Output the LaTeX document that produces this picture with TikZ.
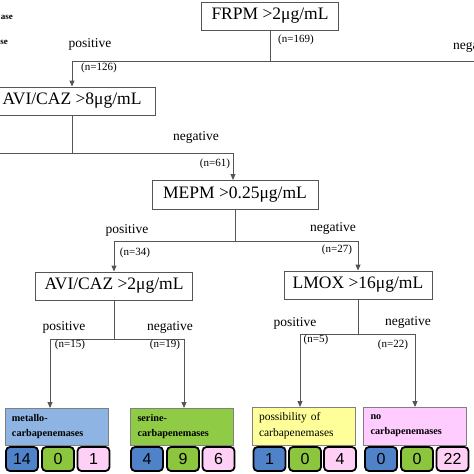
\documentclass[tikz,border=0pt]{standalone}
\usepackage{fontspec}
\setmainfont{Liberation Serif}
\newfontfamily\numfont{Liberation Sans}
\usetikzlibrary{arrows.meta}
\definecolor{linegray}{HTML}{555555}
\definecolor{leafblue}{HTML}{8DB4E2}
\definecolor{leafgreen}{HTML}{8FCB45}
\definecolor{leafyellow}{HTML}{FFFF99}
\definecolor{leafpink}{HTML}{FFCCFF}
\definecolor{numblue}{HTML}{4F82C8}
\definecolor{numgreen}{HTML}{8CC63E}
\definecolor{numpink}{HTML}{FFD0F5}
\begin{document}
\begin{tikzpicture}[x=1pt,y=-1pt,
  line/.style={draw=linegray, line width=0.9pt},
  arr/.style={line, -{Triangle[length=6pt,width=5pt]}},
  testbox/.style={draw=linegray, line width=0.9pt, fill=white, minimum height=28pt, inner sep=0pt, font=\fontsize{17.5}{20}\selectfont},
  lbl/.style={font=\fontsize{13.5}{15}\selectfont, inner sep=0pt},
  cnt/.style={font=\fontsize{11}{13}\selectfont, inner sep=0pt},
  leaf/.style={draw=gray, line width=0.7pt, minimum height=37pt, text width=89pt, inner xsep=7pt, inner ysep=0pt, align=left, font=\fontsize{11.5}{15}\selectfont},
  boldleaf/.style={leaf, font=\bfseries\fontsize{10.2}{15}\selectfont},
  num/.style={draw=black, line width=1.8pt, rounded corners=4pt, minimum width=32pt, minimum height=24pt, inner sep=0pt, font=\numfont\fontsize{16}{18}\selectfont},
  frag/.style={font=\bfseries\fontsize{9}{10}\selectfont, inner sep=0pt}
]
\clip (0,0) rectangle (474,474);
\fill[white] (0,0) rectangle (474,474);

% fragments of a cut-off legend
\node[frag, anchor=east] (fa) at (13,17) {ase};
\node[frag, anchor=east] (fb) at (8,42) {se};

% test boxes
\node[testbox, minimum width=137pt] (frpm) at (270,16) {FRPM >2μg/mL};
\node[testbox, minimum width=166pt] (avi8) at (72,101) {AVI/CAZ >8μg/mL};
\node[testbox, minimum width=166pt, minimum height=29pt] (mepm) at (235,194.5) {MEPM >0.25μg/mL};
\node[testbox, minimum width=157pt] (avi2) at (114,286) {AVI/CAZ >2μg/mL};
\node[testbox, minimum width=148pt] (lmox) at (358,285) {LMOX >16μg/mL};

% leaves
\node[boldleaf, fill=leafblue] (metallo) at (56.5,426.5) {metallo-\\carbapenemases};
\node[boldleaf, fill=leafgreen] (serine) at (182,426.5) {serine-\\carbapenemases};
\node[leaf, fill=leafyellow, minimum height=38pt, font=\fontsize{11.5}{16}\selectfont] (poss) at (303.5,426) {possibility of\\carbapenemases};
\node[boldleaf, fill=leafpink, minimum height=38pt] (nocarb) at (415,426) {no\\carbapenemases};

% count boxes
\node[num, fill=numblue]  (m1) at (22,459) {14};
\node[num, fill=numgreen] (m2) at (58,459) {0};
\node[num, fill=numpink]  (m3) at (93.5,459) {1};
\node[num, fill=numblue]  (s1) at (147,459) {4};
\node[num, fill=numgreen] (s2) at (183,459) {9};
\node[num, fill=numpink]  (s3) at (218.5,459) {6};
\node[num, fill=numblue]  (p1) at (269.5,459) {1};
\node[num, fill=numgreen] (p2) at (305,459) {0};
\node[num, fill=numpink]  (p3) at (340,459) {4};
\node[num, fill=numblue]  (n1) at (381,459) {0};
\node[num, fill=numgreen] (n2) at (417,459) {0};
\node[num, fill=numpink]  (n3) at (452.5,459) {22};

% junction coordinates
\coordinate (j1) at (270,61);
\coordinate (j1r) at (490,61);
\coordinate (j2) at (72,153);
\coordinate (j2l) at (-20,153);
\coordinate (j3) at (235,241);
\coordinate (j4) at (114,339);
\coordinate (j5) at (358,334);
\coordinate (tm) at (50,408);
\coordinate (ts) at (184,408);
\coordinate (tp) at (300,407);
\coordinate (tn) at (415,407);
\coordinate (ta) at (233,153);
\coordinate (tb) at (233,180);

% connectors
\draw[line] (frpm.south) -- (j1);
\draw[line] (j1) -- (j1r);
\draw[arr] (j1) -| (avi8.north);

\draw[line] (avi8.south) -- (j2);
\draw[line] (j2l) -- (ta);
\draw[arr] (ta) -- (tb);

\draw[line] (mepm.south -| j3) -- (j3);
\draw[arr] (j3) -| (avi2.north);
\draw[arr] (j3) -| (lmox.north);

\draw[line] (avi2.south) -- (j4);
\draw[arr] (j4) -| (tm);
\draw[arr] (j4) -| (ts);

\draw[line] (lmox.south) -- (j5);
\draw[arr] (j5) -| (tp);
\draw[arr] (j5) -| (tn);

% labels
\node[lbl] (l1) at (90,44) {positive};
\node[lbl, anchor=west] (l2) at (453,46) {negative};
\node[cnt] (c1) at (296,40) {(n=169)};
\node[cnt] (c2) at (99,68) {(n=126)};
\node[lbl] (l3) at (196,137) {negative};
\node[cnt] (c3) at (215,164) {(n=61)};
\node[lbl] (l4) at (127,230) {positive};
\node[lbl] (l5) at (333,228) {negative};
\node[cnt] (c4) at (135,253) {(n=34)};
\node[cnt] (c5) at (337,250) {(n=27)};
\node[lbl] (l6) at (64,327) {positive};
\node[lbl] (l7) at (170,327) {negative};
\node[cnt] (c6) at (70,345) {(n=15)};
\node[cnt] (c7) at (165,345) {(n=19)};
\node[lbl] (l8) at (295,323) {positive};
\node[lbl] (l9) at (408,322) {negative};
\node[cnt] (c8) at (316,340) {(n=5)};
\node[cnt] (c9) at (393,345) {(n=22)};
\end{tikzpicture}
\end{document}
